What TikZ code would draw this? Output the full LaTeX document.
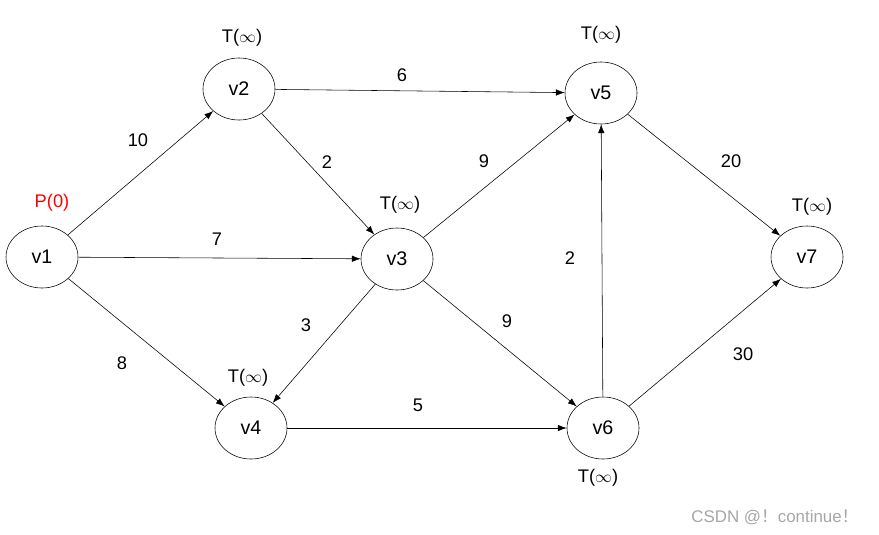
\documentclass[tikz,border=0pt]{standalone}
\usepackage{fontspec}
\setmainfont{Liberation Sans}
\newfontfamily\cjk{Noto Sans CJK SC}
\usetikzlibrary{arrows.meta, shapes.geometric}

\tikzset{
	vertex/.style={ellipse, draw, thin, minimum width=1.8cm, minimum height=1.55cm, inner sep=0pt},
	weight/.style={font=\fontsize{13}{15}\selectfont},
	tag/.style={font=\fontsize{13}{15}\selectfont},
	arc/.style={-{Latex[length=2.2mm,width=1.6mm]}, thin}
}

\begin{document}
\begin{tikzpicture}[x=0.025cm, y=-0.025cm, font=\fontsize{14}{16}\selectfont]
	\useasboundingbox (0,0) rectangle (879,534);

	\node [vertex] (v1) at (42,257)  {v1};
	\node [vertex] (v2) at (239,89)  {v2};
	\node [vertex] (v3) at (397,259) {v3};
	\node [vertex] (v4) at (251,428) {v4};
	\node [vertex] (v5) at (601,93)  {v5};
	\node [vertex] (v6) at (603,428) {v6};
	\node [vertex] (v7) at (807,257) {v7};

	% labels of the vertices
	\node [tag, red] (p1) at (52,203)  {P(0)};
	\node [tag] (t2) at (242,38)  {T($\infty$)};
	\node [tag] (t5) at (601,35)  {T($\infty$)};
	\node [tag] (t3) at (400,205) {T($\infty$)};
	\node [tag] (t4) at (248,378) {T($\infty$)};
	\node [tag] (t7) at (812,207) {T($\infty$)};
	\node [tag] (t6) at (598,478) {T($\infty$)};

	\draw [arc] (v1) -- (v2);
	\draw [arc] (v1) -- (v3);
	\draw [arc] (v1) -- (v4);
	\draw [arc] (v2) -- (v5);
	\draw [arc] (v2) -- (v3);
	\draw [arc] (v3) -- (v5);
	\draw [arc] (v3) -- (v4);
	\draw [arc] (v3) -- (v6);
	\draw [arc] (v4) -- (v6);
	\draw [arc] (v6) -- (v5);
	\draw [arc] (v5) -- (v7);
	\draw [arc] (v6) -- (v7);

	% weights
	\node [weight] (w12) at (138,140) {10};
	\node [weight] (w13) at (217,239) {7};
	\node [weight] (w14) at (122,363) {8};
	\node [weight] (w25) at (402,75)  {6};
	\node [weight] (w23) at (327,162) {2};
	\node [weight] (w35) at (484,161) {9};
	\node [weight] (w34) at (306,325) {3};
	\node [weight] (w36) at (507,321) {9};
	\node [weight] (w46) at (418,405) {5};
	\node [weight] (w65) at (570,258) {2};
	\node [weight] (w57) at (731,161) {20};
	\node [weight] (w67) at (743,354) {30};

	\node [gray!70, font=\fontsize{12}{14}\selectfont] (wm) at (775,517) {CSDN @{\cjk ！}continue{\cjk ！}};
\end{tikzpicture}
\end{document}
